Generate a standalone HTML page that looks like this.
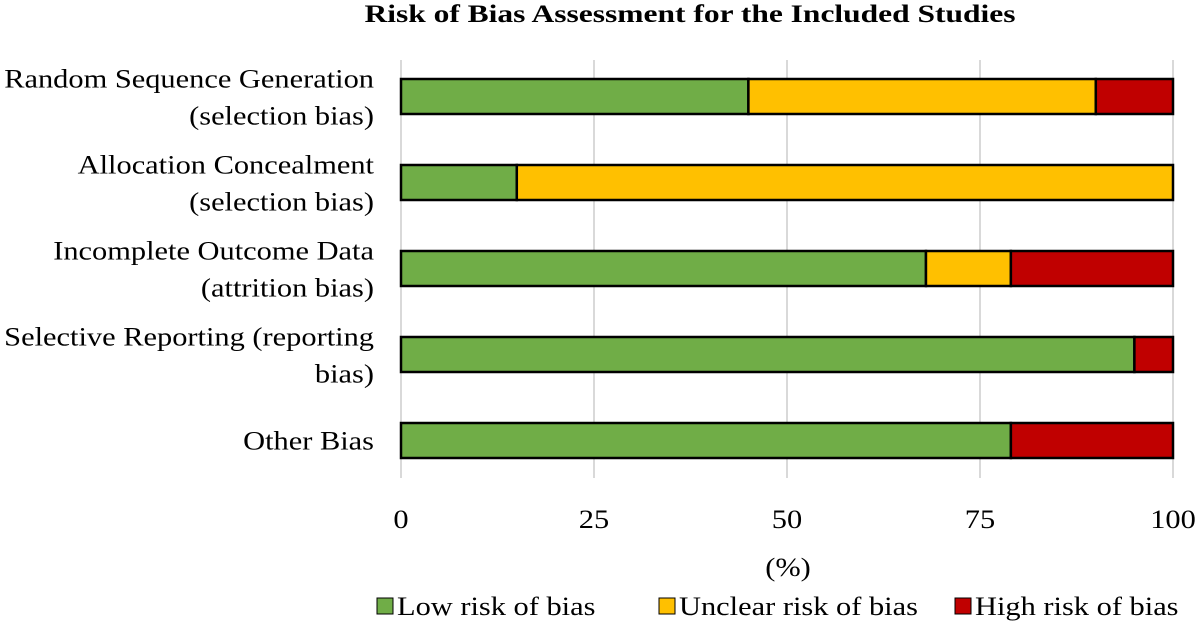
<!DOCTYPE html>
<html><head><meta charset="utf-8"><style>
body{margin:0;background:#fff;}
svg{display:block;font-family:"Liberation Serif",serif;}
</style></head><body>
<svg id="c" width="1200" height="625">
<text transform="translate(690,22) scale(1.26,1)" text-anchor="middle" font-size="25" font-weight="bold">Risk of Bias Assessment for the Included Studies</text>
<g id="grid"></g><g id="bars"></g><g id="labels"></g><g id="ticks"></g>
<text transform="translate(788,576) scale(1.17,1)" text-anchor="middle" font-size="26">(%)</text>
<g font-size="26">
<rect x="377" y="598" width="16" height="16" fill="#70ad47" stroke="#000"/>
<text transform="translate(397,615) scale(1.17,1)">Low risk of bias</text>
<rect x="659" y="598" width="16" height="16" fill="#ffc000" stroke="#000"/>
<text transform="translate(679,615) scale(1.17,1)">Unclear risk of bias</text>
<rect x="955" y="598" width="16" height="16" fill="#c00000" stroke="#000"/>
<text transform="translate(975,615) scale(1.17,1)">High risk of bias</text>
</g>
</svg>
<script>
const categories=[["Random Sequence Generation","(selection bias)"],["Allocation Concealment","(selection bias)"],["Incomplete Outcome Data","(attrition bias)"],["Selective Reporting (reporting","bias)"],["Other Bias"]];
const lowVals=[45,15,68,95,79];
const unclearVals=[45,85,11,0,0];
const highVals=[10,0,21,5,21];
const tickVals=[0,25,50,75,100];
const NS="http://www.w3.org/2000/svg";
const x=v=>401+v*7.72;
const yTop=i=>79+i*86;
const bh=35;
const SX=1.17;
function mk(t,a,p){const e=document.createElementNS(NS,t);for(const k in a)e.setAttribute(k,a[k]);p.appendChild(e);return e;}
function txt(p,tx,ty,anchor,str){const e=mk('text',{transform:'translate('+tx+','+ty+') scale('+SX+',1)','text-anchor':anchor,'font-size':26},p);e.textContent=str;return e;}
const grid=document.getElementById('grid'),bars=document.getElementById('bars'),labels=document.getElementById('labels'),ticks=document.getElementById('ticks');
tickVals.forEach(v=>{
 const l=mk('line',{x1:x(v),x2:x(v),y1:60,y2:478,stroke:'#d9d9d9','stroke-width':2},grid);
 
 
 const t=txt(ticks,x(v),528,'middle',String(v));
 
 
});
const series=[[lowVals,'#70ad47','low'],[unclearVals,'#ffc000','unclear'],[highVals,'#c00000','high']];
categories.forEach((c,i)=>{
 let acc=0;
 series.forEach(([arr,col,nm])=>{
  const v=arr[i];if(v>0){
   const r=mk('rect',{x:x(acc),y:yTop(i),width:x(acc+v)-x(acc),height:bh,fill:col,stroke:'#000','stroke-width':2.5},bars);
   
   
  }
  acc+=v;
 });
 const cy=yTop(i)+bh/2;
 if(c.length===1){
  const t=txt(labels,374,cy+9,'end',c[0]);
  
  
 } else {
  const t=txt(labels,374,cy-9,'end',c[0]);
  
  
  const t2=txt(labels,374,cy+28,'end',c[1]);
  
  
 }
});
</script>
</body></html>
